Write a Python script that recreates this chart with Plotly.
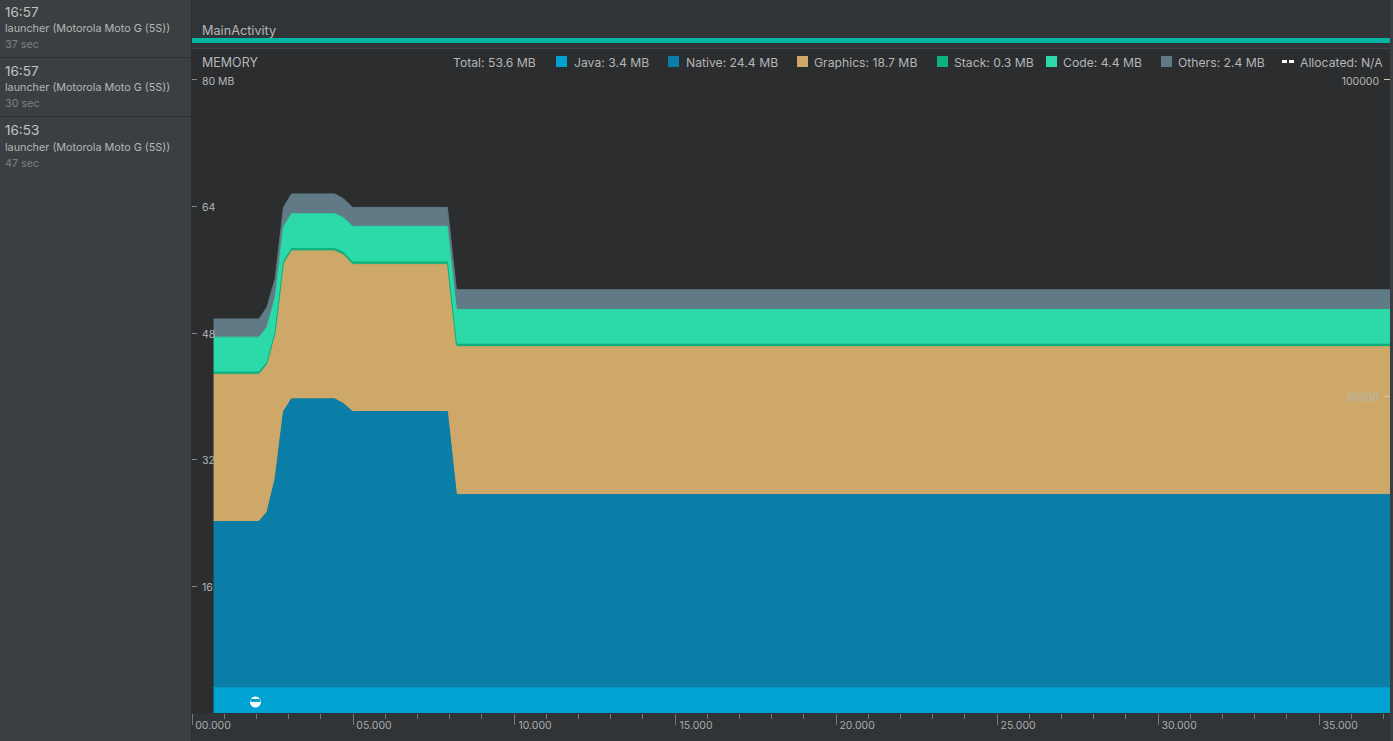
import plotly.graph_objects as go

# memory profile, MB per category
time_s = [0.67, 2.08, 2.33, 2.58, 2.84, 3.09, 4.43, 4.70, 4.98, 7.93, 8.21, 37.2]
java = [3.2, 3.2, 3.2, 3.2, 3.2, 3.2, 3.2, 3.2, 3.2, 3.2, 3.2, 3.2]
native = [21.0, 21.0, 22.2, 26.4, 34.9, 36.5, 36.5, 35.9, 34.9, 34.9, 24.4, 24.4]
graphics = [18.6, 18.6, 18.6, 18.2, 18.6, 18.7, 18.7, 18.8, 18.6, 18.6, 18.7, 18.7]
stack = [0.3, 0.3, 0.3, 0.3, 0.3, 0.3, 0.3, 0.3, 0.3, 0.3, 0.3, 0.3]
code = [4.4, 4.4, 4.5, 4.4, 4.5, 4.4, 4.4, 4.4, 4.5, 4.5, 4.4, 4.4]
others = [2.3, 2.3, 2.5, 2.4, 2.4, 2.5, 2.5, 2.4, 2.4, 2.4, 2.5, 2.5]

series_names = ["Java", "Native", "Graphics", "Stack", "Code", "Others"]
series_values = [java, native, graphics, stack, code, others]
series_colors = ["#00A2D1", "#0B7EA8", "#CEA868", "#0BB27E", "#2CD9A9", "#607B86"]
line_colors = ["#00A2D1", "#0B7EA8", "#CEA868", "#0BB27E", "#2CD9A9", "#5C7681"]

mem_ticks = [16, 32, 48, 64, 80]
mem_labels = ["16", "32", "48", "64", "80 MB"]
count_ticks = [50000, 100000]
time_ticks = [0, 5, 10, 15, 20, 25, 30, 35]
time_labels = ["00.000", "05.000", "10.000", "15.000", "20.000", "25.000", "30.000", "35.000"]

event_time = [1.97]
event_mem = [1.39]

sessions = [
    ("16:57", "37 sec", 12),
    ("16:57", "30 sec", 71),
    ("16:53", "47 sec", 130),
]
device = "launcher (Motorola Moto G (5S))"

legend_items = [
    ("Java: 3.4 MB", 0, 556, 573),
    ("Native: 24.4 MB", 1, 668, 685),
    ("Graphics: 18.7 MB", 2, 797, 813),
    ("Stack: 0.3 MB", 3, 937, 953),
    ("Code: 4.4 MB", 4, 1046, 1062),
    ("Others: 2.4 MB", 5, 1161, 1177),
]

W, H = 1393, 741
# top margin and axis tops leave 2px of slack, inside ticks at the very edge get dropped otherwise
L, R, T, B = 192, 3, 78, 28
MEM_TOP = 80.25
COUNT_TOP = 100000 * MEM_TOP / 80
FONT = "Inter"
CHART_BG = "#2B2D2F"
PANEL_BG = "#3C3F42"
STRIP_BG = "#313437"
TEXT = "#B4B6B7"


def px_x(x):
    return (x - L) / (W - L - R)


def px_y(y):
    return 1 - (y - T) / (H - T - B)


def rect(x0, y0, x1, y1, color, layer="below"):
    return dict(type="rect", xref="paper", yref="paper", x0=px_x(x0), x1=px_x(x1),
                y0=px_y(y0), y1=px_y(y1), fillcolor=color, line_width=0, layer=layer)


def label(x, y, text, size=12.2, color=TEXT, anchor="left"):
    return dict(xref="paper", yref="paper", x=px_x(x), y=px_y(y), text=text, showarrow=False,
                xanchor=anchor, yanchor="middle", borderpad=0,
                font=dict(family=FONT, size=size, color=color))


fig = go.Figure()

for name, values, fill, edge in zip(series_names, series_values, series_colors, line_colors):
    fig.add_trace(go.Scatter(x=time_s, y=values, name=name, mode="lines", stackgroup="one",
                             fillcolor=fill, line=dict(color=edge, width=1, shape="linear"),
                             hoverinfo="x+y+name"))

# activity event marker on the timeline
fig.add_trace(go.Scatter(x=event_time, y=event_mem, mode="markers", hoverinfo="skip",
                         marker=dict(symbol="circle", size=11, color="#FFFFFF")))
fig.add_trace(go.Scatter(x=event_time, y=[m + 0.2 for m in event_mem], mode="markers", hoverinfo="skip",
                         marker=dict(symbol="line-ew", size=7, line=dict(color="#0A9CC9", width=3))))

# right hand axis has no data in this capture
fig.add_trace(go.Scatter(x=[None], y=[None], yaxis="y2", name="Allocated", hoverinfo="skip"))

shapes = [
    rect(192, 49, 1390, 80, CHART_BG),
    rect(0, 0, 191, 741, PANEL_BG),
    rect(191, 0, 192, 741, "#2A2C2E"),
    rect(1390, 0, 1393, 741, PANEL_BG),
    rect(0, 57, 191, 58, "#2E3032"),
    rect(0, 116, 191, 117, "#2E3032"),
    rect(192, 38, 1390, 43, "#03B5A3"),
    rect(192, 48, 1390, 49, "#3E4143"),
]

annotations = [
    label(201, 30, "MainActivity", size=12.7),
    label(201, 62, "MEMORY", size=12.5),
    label(452, 62, "Total: 53.6 MB"),
    label(1299, 62, "Allocated: N/A"),
]

for when, length, y in sessions:
    annotations.append(label(4, y, when, size=13.5, color="#C0C2C3"))
    annotations.append(label(4, y + 17, device, size=10.8, color="#B4B6B7"))
    annotations.append(label(4, y + 33, length, size=10.8, color="#7C7F81"))

for text, idx, swatch_x, text_x in legend_items:
    shapes.append(rect(swatch_x, 56, swatch_x + 11, 67, series_colors[idx], layer="above"))
    annotations.append(label(text_x, 62, text))

# dashed allocated key
shapes.append(rect(1282, 60, 1287, 63, "#FFFFFF", layer="above"))
shapes.append(rect(1289, 60, 1294, 63, "#FFFFFF", layer="above"))

fig.update_layout(
    width=W, height=H,
    margin=dict(l=L, r=R, t=T, b=B, pad=0, autoexpand=False),
    paper_bgcolor=STRIP_BG,
    plot_bgcolor=CHART_BG,
    showlegend=False,
    shapes=shapes,
    annotations=annotations,
    font=dict(family=FONT, size=10.5, color=TEXT),
    xaxis=dict(
        range=[0, 37.2], tickmode="array", tickvals=time_ticks, ticktext=time_labels,
        ticks="outside", ticklen=11, tickwidth=1, tickcolor="#77797B",
        minor=dict(dtick=1, ticks="outside", ticklen=5, tickwidth=1, tickcolor="#77797B"),
        ticklabelshift=21, ticklabelstandoff=-9,
        tickfont=dict(family=FONT, size=10.5, color="#A9ABAC"),
        showgrid=False, zeroline=False, showline=False,
    ),
    yaxis=dict(
        range=[0, MEM_TOP], tickmode="array", tickvals=mem_ticks, ticktext=mem_labels,
        ticks="inside", ticklen=5, tickwidth=1, tickcolor="#8A8C8E",
        ticklabelposition="inside", ticklabeloverflow="allow", ticklabelstandoff=4, ticklabelshift=1,
        tickfont=dict(family=FONT, size=10.5, color="#B4B6B7"),
        showgrid=False, zeroline=False, showline=False,
    ),
    yaxis2=dict(
        range=[0, COUNT_TOP], overlaying="y", side="right", tickmode="array", tickvals=count_ticks,
        ticks="inside", ticklen=6, tickwidth=1, tickcolor="#D9C9A5",
        ticklabelposition="inside", ticklabeloverflow="allow", ticklabelstandoff=4, ticklabelshift=1,
        tickformat="d",
        tickfont=dict(family=FONT, size=10.5, color="#B4B6B7"),
        showgrid=False, zeroline=False, showline=False,
    ),
)

fig.write_html("out.html", config={"displayModeBar": False},
               post_script="document.body.style.margin='0';document.body.style.overflow='hidden';")
